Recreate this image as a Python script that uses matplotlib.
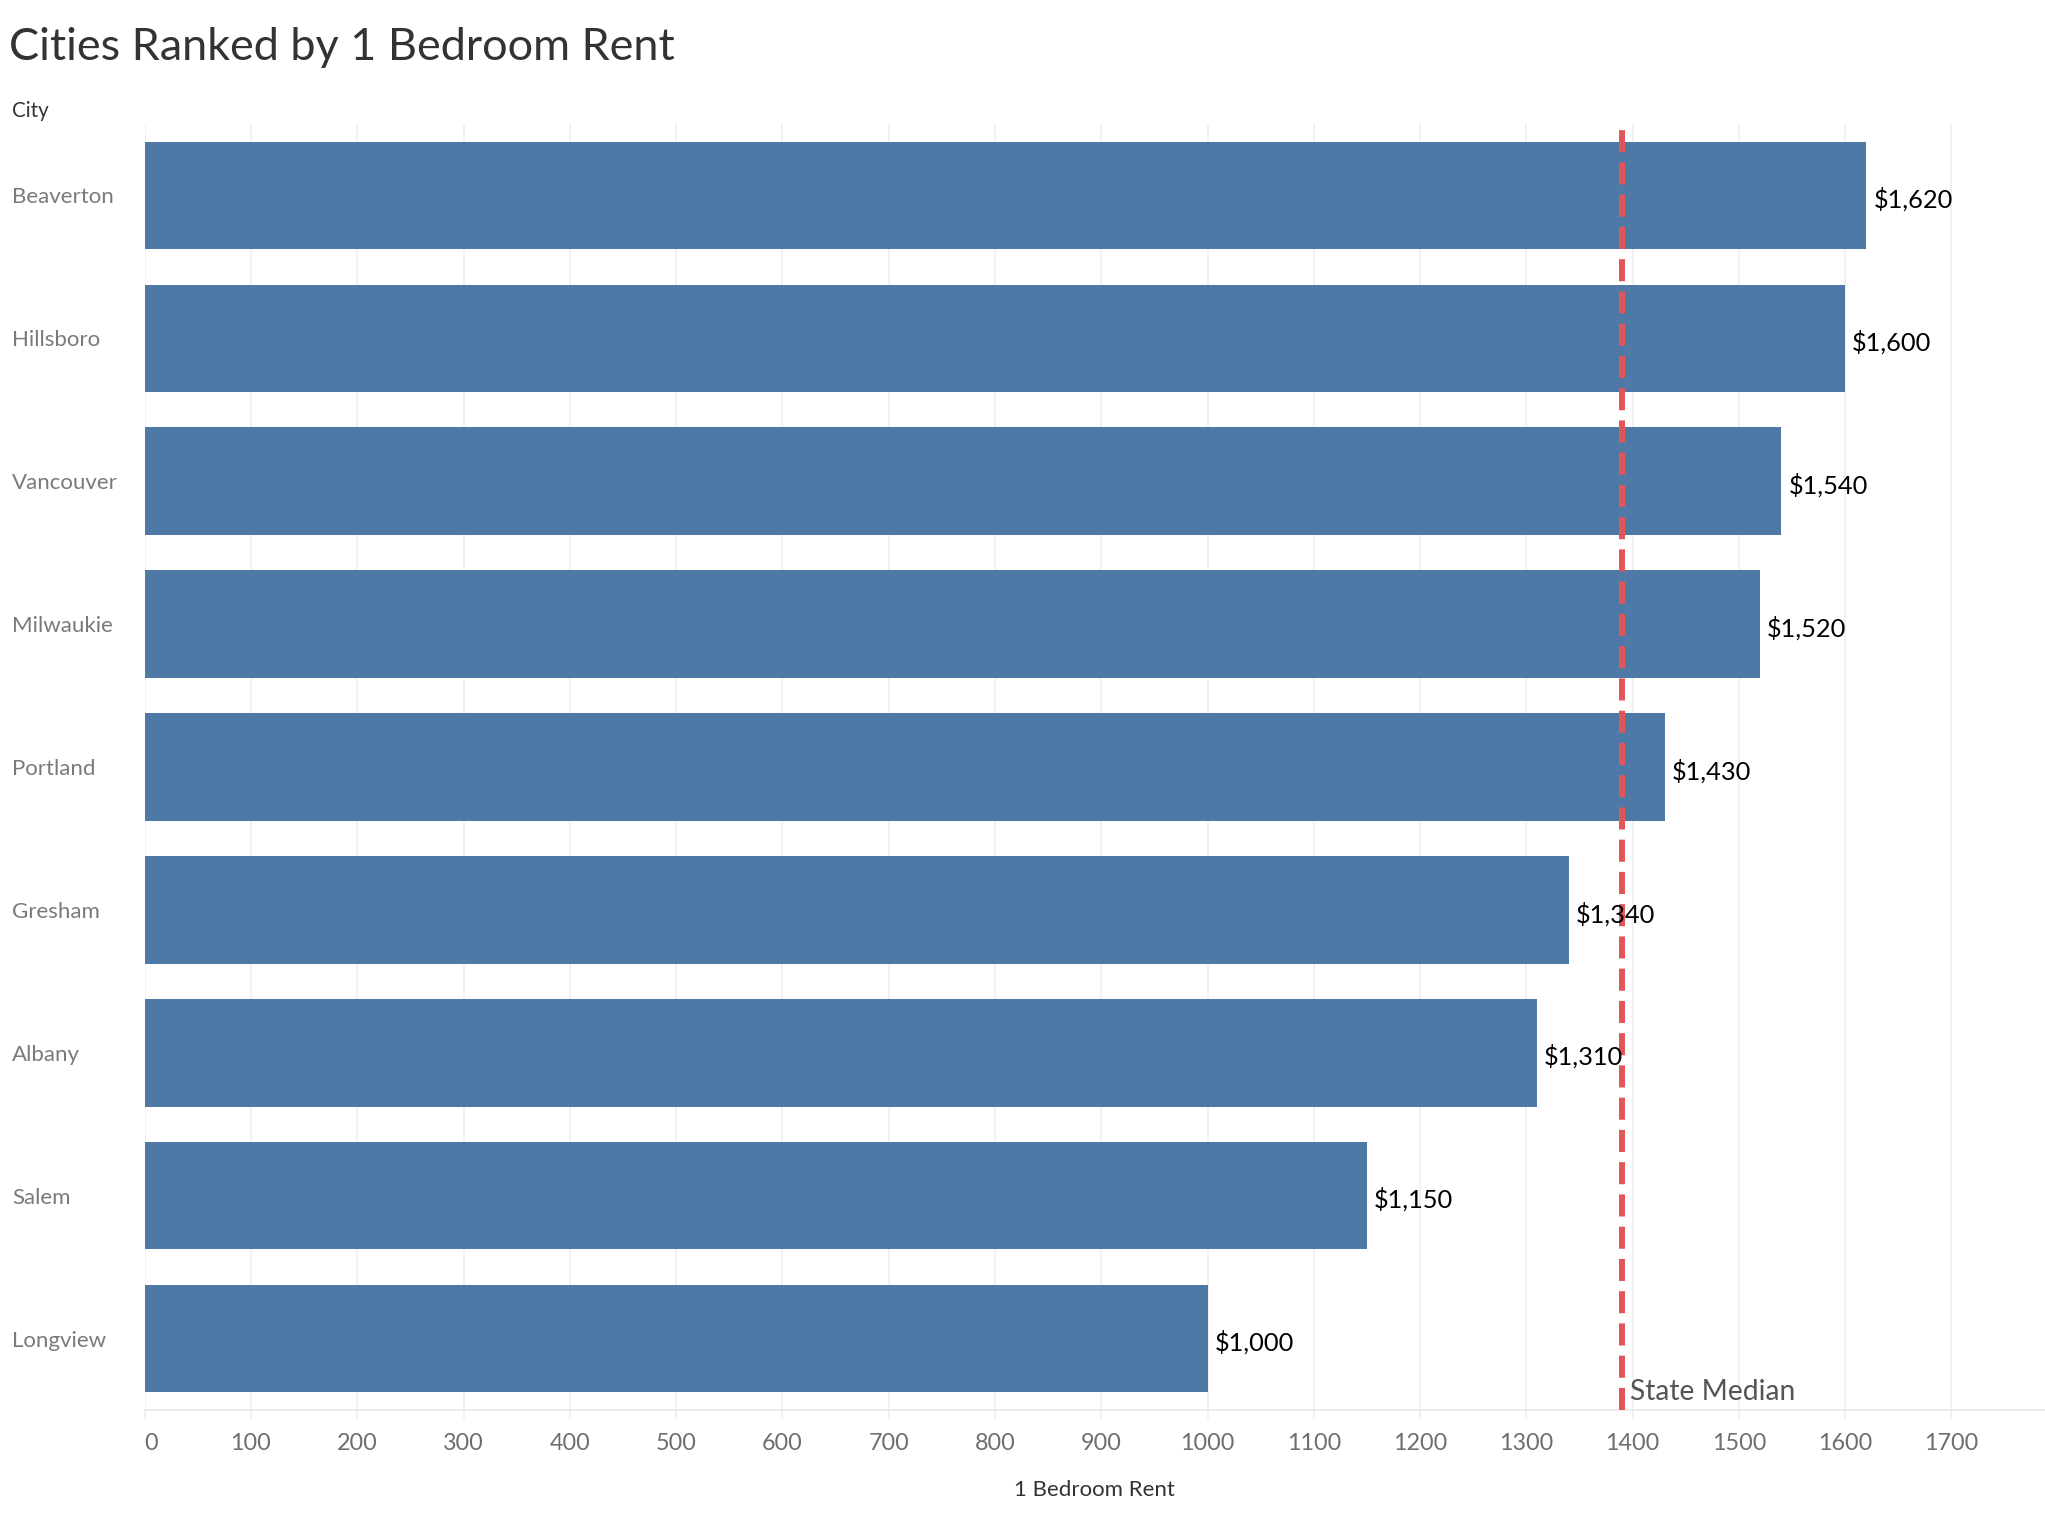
import matplotlib
matplotlib.use("Agg")
import matplotlib.pyplot as plt
import numpy as np

# ---- data ----
cities = ["Beaverton", "Hillsboro", "Vancouver", "Milwaukie", "Portland",
          "Gresham", "Albany", "Salem", "Longview"]
rent = [1620, 1600, 1540, 1520, 1430, 1340, 1310, 1150, 1000]
state_median = 1390
x_ticks = list(range(0, 1800, 100))

title = "Cities Ranked by 1 Bedroom Rent"
y_title = "City"
x_title = "1 Bedroom Rent"
median_label = "State Median"

BAR = "#4e79a7"
RED = "#e15759"
GRID = "#eeeeee"

plt.rcParams['font.family'] = ['Lato', 'DejaVu Sans']

W, H = 2045, 1514
fig = plt.figure(figsize=(W / 100, H / 100), dpi=100)
left_px, right_px, top_px, bot_px = 144.7, 2045, 124, 1410
ax = fig.add_axes([left_px / W, 1 - bot_px / H, (right_px - left_px) / W, (bot_px - top_px) / H])

ypos = np.arange(len(cities))
ax.barh(ypos, rent, height=0.752, color=BAR, zorder=3)

ax.set_xlim(0, 1788)
ax.set_ylim(len(cities) - 0.5, -0.5)

# gridlines
ax.set_xticks(x_ticks)
ax.xaxis.grid(True, color=GRID, linewidth=1.1, zorder=0)
ax.yaxis.grid(False)
ax.set_axisbelow(True)

for s in ["top", "right", "left"]:
    ax.spines[s].set_visible(False)
ax.spines["bottom"].set_color("#ebebeb")
ax.spines["bottom"].set_linewidth(1.3)

ax.tick_params(axis='x', colors=GRID, length=6.5, width=1.1, pad=10,
               labelsize=16.8, labelcolor="#6e6e6e")
ax.set_xticklabels([str(t) for t in x_ticks])
ax.get_xticklabels()[0].set_horizontalalignment('left')

ax.set_yticks(ypos)
ax.set_yticklabels(cities)
ax.tick_params(axis='y', length=0, pad=(left_px - 12) * 72 / 100,
               labelsize=16, labelcolor="#7a7a7a")
for lab in ax.get_yticklabels():
    lab.set_horizontalalignment('left')

# median line
ax.axvline(state_median, color=RED, linewidth=4.3, dashes=(3.7, 1.7), zorder=4)
ax.annotate(median_label, xy=(state_median, 0), xycoords=ax.get_xaxis_transform(),
            xytext=(8, 10), textcoords='offset pixels', ha='left', va='baseline',
            fontsize=20.3, color="#555555", zorder=5)

# data labels
for y, v in zip(ypos, rent):
    ax.annotate(f"${v:,}", xy=(v, y), xytext=(7, -4), textcoords='offset pixels',
                ha='left', va='center', fontsize=18.3, color="#000000", zorder=5)

ax.set_xlabel(x_title, fontsize=16, color="#333333", labelpad=19)

fig.text(9 / W, 1 - 60 / H, title, fontsize=32.4, color="#333333",
         ha='left', va='baseline')
fig.text(11.7 / W, 1 - 117.3 / H, y_title, fontsize=14.8, color="#333333",
         ha='left', va='baseline')

fig.savefig("out.png", dpi=100)
